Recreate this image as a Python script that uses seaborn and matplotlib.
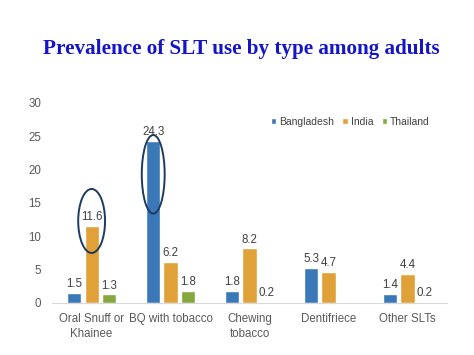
import seaborn as sns
import matplotlib.pyplot as plt
import numpy as np
import pandas as pd
from matplotlib.patches import Ellipse

# Data
categories = ['Oral Snuff or\nKhainee', 'BQ with tobacco', 'Chewing\ntobacco', 'Dentifriece', 'Other SLTs']
countries = ['Bangladesh', 'India', 'Thailand']
bangladesh = [1.5, 24.3, 1.8, 5.3, 1.4]
india = [11.6, 6.2, 8.2, 4.7, 4.4]
thailand = [1.3, 1.8, 0.2, np.nan, 0.2]
colors = ['#3a78b8', '#e0a238', '#84a83e']

df = pd.DataFrame({
    'Type': categories * 3,
    'Country': [c for c in countries for _ in categories],
    'Value': bangladesh + india + thailand,
})

sns.set_style("white")
plt.rcParams['font.family'] = ['Liberation Sans', 'DejaVu Sans']

fig = plt.figure(figsize=(4.74, 3.55), dpi=100)
ax = fig.add_axes([0.11, 0.1465, 0.833, 0.5635])

sns.barplot(data=df, x='Type', y='Value', hue='Country', palette=colors,
            width=0.66, gap=0.18, ax=ax, saturation=1, order=categories,
            hue_order=countries)

for cont in ax.containers:
    ax.bar_label(cont, fmt='%.1f', padding=2, fontsize=8.3, color='#404040')

ax.set_ylim(0, 30)
ax.set_yticks(range(0, 31, 5))
ax.set_xlim(-0.5, 4.5)
ax.set_xlabel('')
ax.set_ylabel('')
ax.tick_params(axis='both', labelsize=8.3, colors='#595959', length=0)
ax.tick_params(axis='y', pad=8)
ax.tick_params(axis='x', pad=7)
for lbl in ax.get_xticklabels():
    lbl.set_linespacing(1.35)
for s in ['top', 'right', 'left']:
    ax.spines[s].set_visible(False)
ax.spines['bottom'].set_color('#d9d9d9')

ax.legend(loc='center', bbox_to_anchor=(0.755, 0.905), ncol=3, frameon=False,
          fontsize=7.5, handlelength=0.5, handleheight=0.5, columnspacing=0.8,
          handletextpad=0.3, labelcolor='#404040')

# Highlight circles around two bars
offset = 0.66 / 3
ax.add_patch(Ellipse((0, 12.3), 0.34, 9.6, fill=False, edgecolor='#1f3a60', lw=1.4,
                     clip_on=False))
ax.add_patch(Ellipse((1 - offset, 19.3), 0.29, 11.8, fill=False, edgecolor='#1f3a60',
                     lw=1.4, clip_on=False))

fig.text(0.51, 0.862, 'Prevalence of SLT use by type among adults', ha='center',
         va='center', fontsize=15.2, fontweight='bold', color='#1414c8',
         family=['Liberation Serif', 'DejaVu Serif'])

plt.savefig('out.png', dpi=100)
